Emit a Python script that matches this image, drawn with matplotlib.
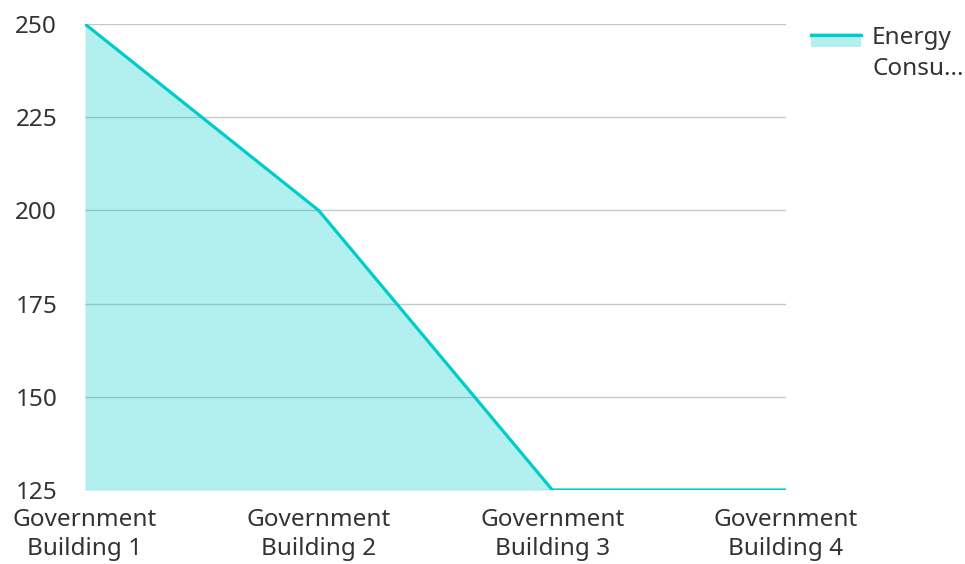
import matplotlib
matplotlib.use('Agg')
import matplotlib.pyplot as plt
from matplotlib.patches import Rectangle
from matplotlib.lines import Line2D

plt.rcParams['font.family'] = ['Noto Sans', 'DejaVu Sans']

buildings = ['Government\nBuilding 1', 'Government\nBuilding 2', 'Government\nBuilding 3', 'Government\nBuilding 4']
energy = [250, 200, 125, 125]
yticks = [125, 150, 175, 200, 225, 250]

line_col = '#00cccc'
txt_col = '#333333'

fig = plt.figure(figsize=(9.65, 5.64), dpi=100)
ax = fig.add_axes([85/965, 1-490/564, (786-85)/965, (490-24)/564])

x = list(range(len(buildings)))
ax.fill_between(x, energy, 125, color=line_col, alpha=0.3, lw=0, zorder=1)
ax.plot(x, energy, color=line_col, lw=2.3, zorder=3, solid_capstyle='butt')

ax.set_xlim(0, 3)
ax.set_ylim(125, 250)
ax.set_yticks(yticks)
ax.set_xticks(x)
ax.set_xticklabels(buildings, linespacing=1.3)
ax.grid(axis='y', color='#c8c8c8', lw=1, zorder=0)
ax.set_axisbelow(True)
for s in ax.spines.values():
    s.set_visible(False)
ax.tick_params(length=0, labelsize=17.5, colors=txt_col)
ax.tick_params(axis='x', pad=13)
ax.tick_params(axis='y', pad=20)

# legend
fig.patches.append(Rectangle((811/965, 1-47/564), 50/965, 14/564, transform=fig.transFigure,
                             color=line_col, alpha=0.3, lw=0))
fig.lines.append(Line2D([811/965, 861/965], [1-35/564, 1-35/564], transform=fig.transFigure,
                        color=line_col, lw=2.3))
fig.text(872/965, 1-44/564, 'Energy', fontsize=17.5, color=txt_col, va='baseline', ha='left')
fig.text(872/965, 1-75/564, 'Consu...', fontsize=17.5, color=txt_col, va='baseline', ha='left')

fig.savefig('out.png', dpi=100)
